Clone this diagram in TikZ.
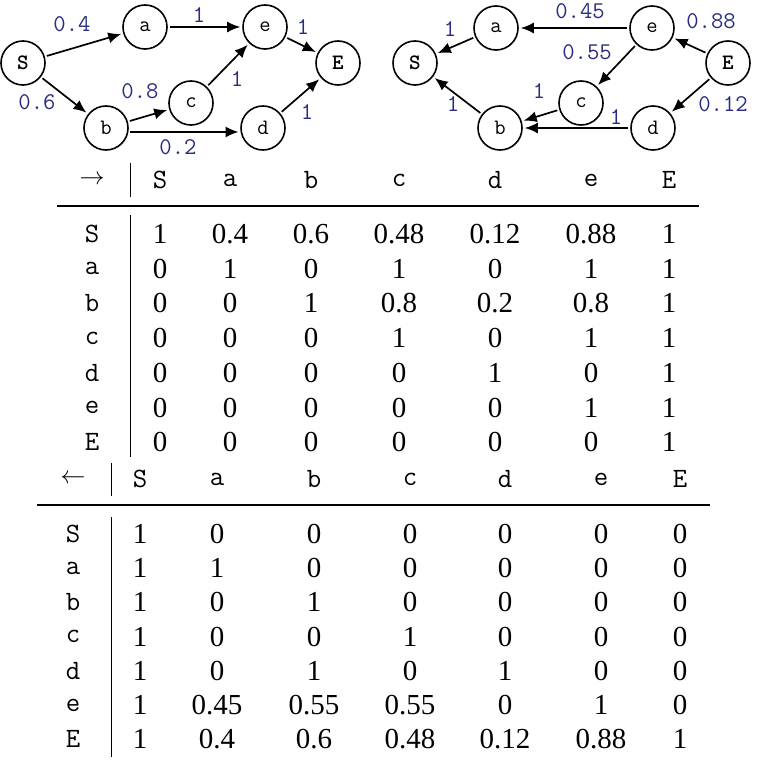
\documentclass[tikz,border=0pt]{standalone}
\usepackage{fontspec}
\setmainfont{Liberation Serif}
\usetikzlibrary{arrows.meta}
\definecolor{lbl}{RGB}{40,45,130}
\begin{document}
\begin{tikzpicture}[x=1pt,y=-1pt,
  vx/.style={circle,draw,line width=1.6pt,minimum size=44pt,inner sep=0pt,font=\fontsize{22}{22}\ttfamily},
  vb/.style={vx,font=\fontsize{22}{22}\ttfamily\bfseries},
  ed/.style={-{Latex[length=13pt,width=11pt]},line width=1.7pt,shorten >=2pt,shorten <=2pt},
  wl/.style={text=lbl,font=\fontsize{24}{24}\ttfamily,inner sep=0pt},
  hd/.style={font=\fontsize{28}{28}\ttfamily,inner sep=0pt},
  nm/.style={font=\fontsize{29}{29}\selectfont,inner sep=0pt},
  rl/.style={line width=0.8pt},
  hl/.style={line width=1.6pt}]
\useasboundingbox (0,0) rectangle (759,762);
% left graph
\node[vb] (S) at (23,63) {S};
\node[vx] (a) at (145,27) {a};
\node[vx] (e) at (265,27) {e};
\node[vb] (E) at (338,63) {E};
\node[vx] (c) at (191,103) {c};
\node[vx] (b) at (106,128) {b};
\node[vx] (d) at (263,128) {d};
\draw[ed] (S) -- (a); \draw[ed] (S) -- (b); \draw[ed] (a) -- (e);
\draw[ed] (b) -- (c); \draw[ed] (b.-10) -- (d.190); \draw[ed] (c) -- (e);
\draw[ed] (e) -- (E); \draw[ed] (d) -- (E);
\node[wl] (l1) at (72,24) {0.4};
\node[wl] (l2) at (37,102) {0.6};
\node[wl] (l3) at (140,91) {0.8};
\node[wl] (l4) at (199,15) {1};
\node[wl] (l5) at (237,79) {1};
\node[wl] (l6) at (303,27) {1};
\node[wl] (l7) at (307,112) {1};
\node[wl] (l8) at (178,147) {0.2};
% right graph
\node[vb] (S2) at (415,63) {S};
\node[vx] (a2) at (496,28) {a};
\node[vx] (e2) at (652,28) {e};
\node[vb] (E2) at (728,63) {E};
\node[vx] (c2) at (581,103) {c};
\node[vx] (b2) at (500,128) {b};
\node[vx] (d2) at (653,128) {d};
\draw[ed] (a2) -- (S2); \draw[ed] (b2) -- (S2); \draw[ed] (e2) -- (a2);
\draw[ed] (e2) -- (c2); \draw[ed] (c2) -- (b2); \draw[ed] (d2) -- (b2);
\draw[ed] (E2) -- (e2); \draw[ed] (E2) -- (d2);
\node[wl] (m1) at (580,11) {0.45};
\node[wl] (m2) at (450,29) {1};
\node[wl] (m3) at (711,21) {0.88};
\node[wl] (m4) at (587,52) {0.55};
\node[wl] (m5) at (539,91) {1};
\node[wl] (m6) at (453,104) {1};
\node[wl] (m7) at (616,117) {1};
\node[wl] (m8) at (723,104) {0.12};
% table 1
\node[hd] (h1) at (92,180) {$\rightarrow$};
\foreach \t [count=\i] in {S,a,b,c,d,e,E} {
  \pgfmathsetmacro\xx{{160,230,311,399,495,591,669}[\i-1]}
  \node[hd] (h1\i) at (\xx,180) {\t};
  \node[hd] (r1\i) at (92,234+34.7*\i-34.7) {\t};
}
\draw[rl] (130,163) -- (130,197);
\draw[hl] (57,206) -- (699,206);
\draw[rl] (130,215) -- (130,457);
\foreach \row [count=\j] in {
 {1,0.4,0.6,0.48,0.12,0.88,1},
 {0,1,0,1,0,1,1},
 {0,0,1,0.8,0.2,0.8,1},
 {0,0,0,1,0,1,1},
 {0,0,0,0,1,0,1},
 {0,0,0,0,0,1,1},
 {0,0,0,0,0,0,1}} {
  \foreach \v [count=\i] in \row {
    \pgfmathsetmacro\xx{{160,230,311,399,495,591,669}[\i-1]}
    \node[nm] (t1-\j-\i) at (\xx,234+34.7*\j-34.7) {\v};
  }
}
% table 2
\node[hd] (h2) at (73,479) {$\leftarrow$};
\foreach \t [count=\i] in {S,a,b,c,d,e,E} {
  \pgfmathsetmacro\xx{{140,217,314,410,505,601,680}[\i-1]}
  \node[hd] (h2\i) at (\xx,479) {\t};
  \node[hd] (r2\i) at (73,534+34.2*\i-34.2) {\t};
}
\draw[rl] (111,463) -- (111,496);
\draw[hl] (37,505) -- (710,505);
\draw[rl] (111,517) -- (111,757);
\foreach \row [count=\j] in {
 {1,0,0,0,0,0,0},
 {1,1,0,0,0,0,0},
 {1,0,1,0,0,0,0},
 {1,0,0,1,0,0,0},
 {1,0,1,0,1,0,0},
 {1,0.45,0.55,0.55,0,1,0},
 {1,0.4,0.6,0.48,0.12,0.88,1}} {
  \foreach \v [count=\i] in \row {
    \pgfmathsetmacro\xx{{140,217,314,410,505,601,680}[\i-1]}
    \node[nm] (t2-\j-\i) at (\xx,534+34.2*\j-34.2) {\v};
  }
}
\end{tikzpicture}
\end{document}
